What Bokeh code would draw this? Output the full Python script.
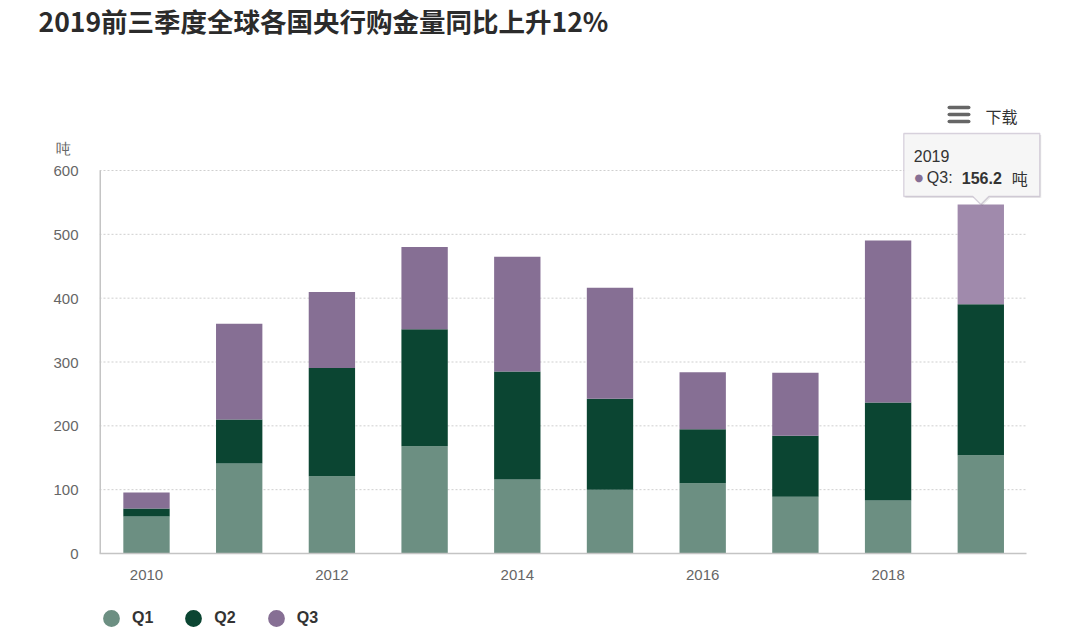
import numpy as np
from bokeh.plotting import figure
from bokeh.layouts import column
from bokeh.models import (Range1d, FixedTicker, Label, PolyAnnotation, BoxAnnotation,
                          Legend, LegendItem, ColumnDataSource)
from bokeh.embed import file_html
from bokeh.resources import INLINE

# ---------------- data ----------------
years = [2010, 2011, 2012, 2013, 2014, 2015, 2016, 2017, 2018, 2019]
q1 = [58, 141, 121, 168, 116, 100, 110, 89, 83, 154]
q2 = [12.5, 69, 169.5, 183.5, 169, 142.5, 84.5, 95.5, 153.5, 236.5]
q3 = [25, 150, 119, 128.5, 180, 174, 89.5, 98.5, 254, 156.2]
series_names = ["Q1", "Q2", "Q3"]
x_tick_labels = [2010, 2012, 2014, 2016, 2018]
y_ticks = [0, 100, 200, 300, 400, 500, 600]
title_text = "2019前三季度全球各国央行购金量同比上升12%"
unit = "吨"
hover_year = 2019

# ---------------- style ----------------
C1, C2, C3 = "#6c8f82", "#0b4532", "#866f94"
C3_HOVER = "#a08aac"
GRID = "#cfcfcf"
AXIS = "#c4c4c4"
LATIN = "Liberation Sans"
CJK = "Noto Sans CJK SC"

W = 1072
HEAD_H, MAIN_H, LEG_H = 60, 536, 32
ML, MR, MT, MB = 99, 28, 30, 43
FW, FH = W - ML - MR, MAIN_H - MT - MB
PLOT_W, PLOT_H = 927, 383          # pixel size of the axis band
X0 = years[0] - 0.507
XA = years[-1] + 0.493              # end of the axis band
X1 = X0 + (XA - X0) * FW / PLOT_W   # extra room on the right for the tooltip
Y0 = 0
Y1 = y_ticks[-1] * FH / PLOT_H      # headroom above 600 for header items
UNIT_TICK = y_ticks[-1] + 35

def sx(v):
    return (v - X0) / (X1 - X0) * FW

def sy(v):
    return (v - Y0) / (Y1 - Y0) * FH

def blank_fig(h):
    f = figure(width=W, height=h, output_backend="svg", toolbar_location=None,
               x_axis_type=None, y_axis_type=None,
               x_range=Range1d(0, W), y_range=Range1d(0, h),
               min_border_left=0, min_border_right=0, min_border_top=0, min_border_bottom=0)
    f.outline_line_color = None
    f.grid.visible = False
    return f

# ---------------- header (title) ----------------
head = blank_fig(HEAD_H)
head.title.text = title_text
head.title.align = "left"
head.title.offset = -61
head.title.vertical_align = "top"
head.title.standoff = 0
head.title.text_font = CJK
head.title.text_font_style = "bold"
head.title.text_font_size = "26.5px"
head.title.text_color = "#2b2b2b"

# ---------------- main chart ----------------
b2 = np.array(q1) + np.array(q2)
tot = b2 + np.array(q3)
c3 = [C3_HOVER if y == hover_year else C3 for y in years]
src = ColumnDataSource(dict(year=years, q1=q1, b2=b2, tot=tot, c3=c3))

p = figure(width=W, height=MAIN_H, output_backend="svg", toolbar_location=None,
           x_range=Range1d(X0, X1), y_range=Range1d(Y0, Y1),
           min_border_left=ML, min_border_right=MR, min_border_top=MT, min_border_bottom=MB)
p.outline_line_color = None
p.title.visible = False
p.background_fill_color = "white"

# dotted horizontal grid over the axis band only
p.segment(x0=X0, x1=XA, y0=y_ticks[1:], y1=y_ticks[1:], line_color=GRID,
          line_dash="2 2", line_width=1)

p.vbar(x="year", bottom=0, top="q1", width=0.5, fill_color=C1, line_color=None, source=src)
p.vbar(x="year", bottom="q1", top="b2", width=0.5, fill_color=C2, line_color=None, source=src)
p.vbar(x="year", bottom="b2", top="tot", width=0.5, fill_color="c3", line_color=None, source=src)

# y axis line only over 0..600
p.segment(x0=X0, y0=y_ticks[0], x1=X0, y1=y_ticks[-1], line_color=AXIS, line_width=3)

p.xaxis.ticker = FixedTicker(ticks=x_tick_labels)
p.xaxis.bounds = (X0, XA)
p.yaxis.ticker = FixedTicker(ticks=y_ticks + [UNIT_TICK])
p.yaxis.major_label_overrides = {UNIT_TICK: unit + "\u2002"}
for ax in (p.xaxis[0], p.yaxis[0]):
    ax.major_tick_line_color = None
    ax.minor_tick_line_color = None
    ax.major_tick_in = 0
    ax.major_tick_out = 0
    ax.major_label_text_font = LATIN
    ax.major_label_text_font_size = "15px"
    ax.major_label_text_color = "#666666"
p.xaxis.axis_line_color = AXIS
p.xaxis.axis_line_width = 1.5
p.yaxis.axis_line_color = None
p.xaxis.major_label_standoff = 16
p.yaxis.major_label_standoff = 21
p.grid.visible = False

# download menu
for cy in (446, 439, 432):
    p.add_layout(BoxAnnotation(left=848, right=871, bottom=cy - 1.8, top=cy + 1.8,
                               left_units="screen", right_units="screen",
                               bottom_units="screen", top_units="screen",
                               fill_color="#666666", fill_alpha=1, line_color=None,
                               border_radius=2))
p.add_layout(Label(x=886, y=438, x_units="screen", y_units="screen", text="下载",
                   text_font=CJK, text_font_size="16px", text_color="#333333",
                   text_baseline="middle"))

# tooltip
hi = years.index(hover_year)
tx, ty = sx(years[hi]), sy(tot[hi])
L, R, B, T = tx - 77, tx + 59, ty + 8, ty + 71
xs = [L, R, R, tx + 8, tx, tx - 8, L]
ys = [T, T, B, B, ty, B, B]
p.add_layout(PolyAnnotation(xs=[v + 1.5 for v in xs], ys=[v - 1.5 for v in ys],
                            xs_units="screen", ys_units="screen",
                            fill_color="#000000", fill_alpha=0.08, line_color=None))
p.add_layout(PolyAnnotation(xs=xs, ys=ys, xs_units="screen", ys_units="screen",
                            fill_color="#f7f7f7", fill_alpha=0.95,
                            line_color=C3, line_width=1.3))
p.add_layout(Label(x=tx - 67, y=ty + 49, x_units="screen", y_units="screen",
                   text=str(hover_year), text_font=LATIN, text_font_size="16px",
                   text_color="#333333", text_baseline="middle"))
p.add_layout(Label(x=tx - 62, y=ty + 27, x_units="screen", y_units="screen",
                   text="●", text_font="DejaVu Sans", text_font_size="10px",
                   text_color=C3, text_align="center", text_baseline="middle"))
p.add_layout(Label(x=tx - 54, y=ty + 27, x_units="screen", y_units="screen",
                   text=series_names[2] + ":", text_font=LATIN, text_font_size="16px",
                   text_color="#333333", text_baseline="middle"))
p.add_layout(Label(x=tx - 19, y=ty + 27, x_units="screen", y_units="screen",
                   text=f"{q3[hi]:.1f}", text_font=LATIN, text_font_size="16px",
                   text_font_style="bold", text_color="#333333", text_baseline="middle"))
p.add_layout(Label(x=tx + 31, y=ty + 27, x_units="screen", y_units="screen",
                   text=unit, text_font=CJK, text_font_size="16px",
                   text_color="#333333", text_baseline="middle"))

# ---------------- legend ----------------
lf = blank_fig(LEG_H)
lf.title.visible = False
lr = [lf.scatter(x=[-1e6], y=[-1e6], marker="circle", size=10, fill_color=c, line_color=None)
      for c in (C1, C2, C3)]
leg = Legend(items=[LegendItem(label=n, renderers=[r]) for n, r in zip(series_names, lr)],
             orientation="horizontal", location=(-9, -11),
             glyph_width=42, glyph_height=42, label_standoff=-5, spacing=19,
             padding=0, margin=0, border_line_color=None, background_fill_alpha=0,
             label_text_font=LATIN, label_text_font_style="bold",
             label_text_font_size="16px", label_text_color="#333333")
lf.add_layout(leg, "center")

layout = column(head, p, lf, spacing=0)
open("out.html", "w").write(file_html(layout, INLINE))
